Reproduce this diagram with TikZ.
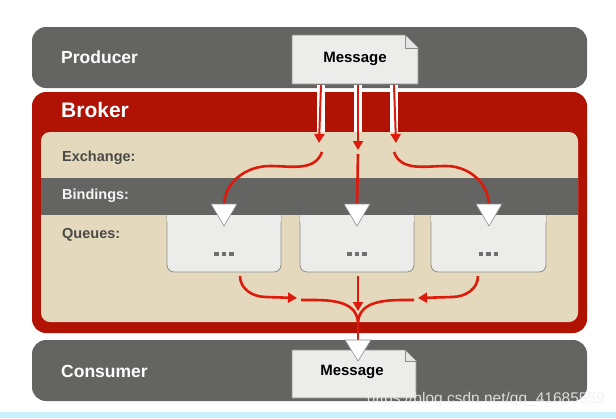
\documentclass[tikz,border=0pt]{standalone}
\usepackage{fontspec}
\setmainfont{Liberation Sans}
\usetikzlibrary{arrows.meta,calc}
\definecolor{bargray}{HTML}{646462}
\definecolor{brokerred}{HTML}{B01204}
\definecolor{beige}{HTML}{E4D9BC}
\definecolor{arrowred}{HTML}{DE1A0C}
\definecolor{qfill}{HTML}{ECECEB}
\definecolor{qline}{HTML}{8C8C8C}
\definecolor{darktext}{HTML}{4A4A46}
\definecolor{dotgray}{HTML}{707070}
\tikzset{
  bar/.style={fill=bargray, rounded corners=14pt},
  barlabel/.style={text=white, font=\bfseries\fontsize{17.5}{18}\selectfont, anchor=west, inner sep=0pt},
  sublabel/.style={text=darktext, font=\bfseries\fontsize{14.5}{15}\selectfont, anchor=west, inner sep=0pt},
  msgtext/.style={font=\bfseries\fontsize{15}{15}\selectfont, text=black},
  qbox/.style={fill=qfill, draw=qline, line width=0.8pt, rounded corners=7pt},
  tri/.style={fill=white, draw=qline, line width=0.6pt},
  flow/.style={draw=arrowred, line width=2.6pt},
  flowtip/.style={flow, -{Triangle[length=9pt,width=10pt]}},
  hollow/.style={draw=white, line width=8pt},
}
\begin{document}
\begin{tikzpicture}[x=1pt,y=-1pt]
\useasboundingbox (0,0) rectangle (616,418);
\fill[white] (0,0) rectangle (616,418);
% Producer
\fill[bar] (32,27) rectangle (587,88);
\node[barlabel] (prodlabel) at (61,57) {Producer};
% Broker
\fill[brokerred, rounded corners=14pt] (32,92) rectangle (587,333);
\node[barlabel, font=\bfseries\fontsize{21}{21}\selectfont] (brokerlabel) at (61,110) {Broker};
\fill[beige, rounded corners=9pt] (41,132) rectangle (578,322);
\fill[bargray] (41,178) rectangle (578,215);
\node[sublabel] (exlabel) at (62,158) {Exchange:};
\node[sublabel, text=white!92!gray] (bindlabel) at (62,196) {Bindings:};
\node[sublabel] (qlabel) at (62,235) {Queues:};
% Consumer
\fill[bar] (32,340) rectangle (587,401);
\node[barlabel] (conslabel) at (61,371) {Consumer};
% Queues
\foreach \n/\a/\b in {q1/167/281, q2/300/414, q3/431/546}{
  \path[qbox] (\a,215) -- (\a,272) -- (\b,272) -- (\b,215);
  \fill[qfill] (\a+0.4,215) rectangle (\b-0.4,222);
  \coordinate (\n) at ({(\a+\b)/2},254);
  \foreach \d in {-7.5,0,7.5}{
    \fill[dotgray] ($(\n)+(\d-2.4,-2.4)$) rectangle ($(\n)+(\d+2.4,2.4)$);
  }
}
% Producer message
\filldraw[fill=qfill, draw=qline, line width=0.6pt] (292,35) -- (405,35) -- (418,48) -- (418,84) -- (292,84) -- cycle;
\filldraw[fill=white!80!gray, draw=qline, line width=0.5pt] (405,35) -- (405,48) -- (418,48);
\node[msgtext] (msg1) at (355,59) {Message};
% Consumer message
\filldraw[fill=qfill, draw=qline, line width=0.6pt] (292,350) -- (405,350) -- (416,361) -- (416,398) -- (292,398) -- cycle;
\filldraw[fill=white!80!gray, draw=qline, line width=0.5pt] (405,350) -- (405,361) -- (416,361);
\node[msgtext] (msg2) at (352,372) {Message};
% coordinates
\coordinate (m1) at (321,85);
\coordinate (m2) at (358,85);
\coordinate (m3) at (394,85);
\coordinate (e1) at (319,143);
\coordinate (e2) at (358,150);
\coordinate (e3) at (396,143);
\coordinate (t1) at (224,206);
\coordinate (t2) at (357,206);
\coordinate (t3) at (489,206);
% hollow stripes through broker header
\foreach \m in {m1,m2,m3}{ \draw[hollow] (\m) -- ++(0,47); }
\draw[flowtip, line width=2pt] (m1) -- (e1);
\draw[flowtip, line width=2pt] (m2) -- (e2);
\draw[flowtip, line width=2pt] (m3) -- (e3);
% exchange to queues
\draw[flow] (322,152) to[out=-110,in=0] (270,166) to[out=180,in=90] (t1);
\draw[flow] (358,154) -- (t2);
\draw[flow] (394,152) to[out=-70,in=180] (446,166) to[out=0,in=90] (t3);
% triangles on queues
\foreach \t in {t1,t2,t3}{
  \filldraw[tri] ($(\t)+(-13,-2)$) -- ($(\t)+(13,-2)$) -- ($(\t)+(0,20)$) -- cycle;
}
% queues to consumer
\coordinate (j) at (358,322);
\coordinate (c) at (358,342);
\draw[flowtip] (240,276) to[out=-90,in=180] (266,297) -- (297,298);
\draw[flowtip] (478,276) to[out=-90,in=0] (452,297) -- (418,298);
\draw[flowtip] (358,276) -- (358,311);
\draw[flow] (301,300) to[out=0,in=95] (j);
\draw[flow] (414,300) to[out=180,in=85] (j);
\draw[flow] (j) -- (c);
\filldraw[tri] (345,340) -- (371,340) -- (358,361) -- cycle;
% watermark
\node[text=white!88!gray, opacity=0.85, font=\fontsize{15.5}{15.5}\selectfont, anchor=east, inner sep=0pt] (wm) at (605,399) {https://blog.csdn.net/qq\_41685559};
% bottom strip
\fill[cyan!20!white] (0,412) rectangle (616,418);
\end{tikzpicture}
\end{document}
